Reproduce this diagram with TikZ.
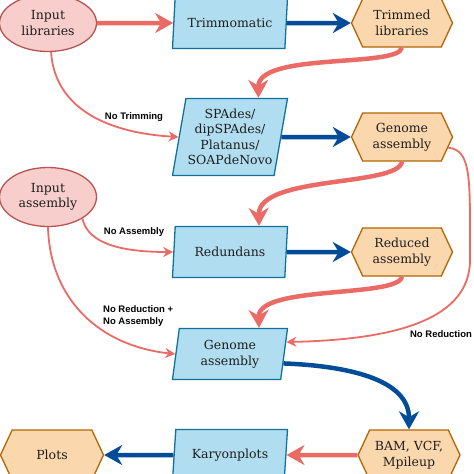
\documentclass[tikz,border=0pt]{standalone}
\usepackage{fontspec}
\setmainfont{DejaVu Serif}
\setsansfont{Liberation Sans}
\usetikzlibrary{arrows.meta,positioning,shapes.geometric,shapes.symbols}
\definecolor{flowred}{HTML}{EA6B66}
\definecolor{flowblue}{HTML}{004C99}
\definecolor{inpfill}{HTML}{F8CECC}
\definecolor{inpline}{HTML}{B85450}
\definecolor{toolfill}{HTML}{B1DDF0}
\definecolor{toolline}{HTML}{10739E}
\definecolor{datafill}{HTML}{FAD7AC}
\definecolor{dataline}{HTML}{B46504}
\definecolor{ink}{HTML}{1E1E1E}

\begin{document}
\begin{tikzpicture}[x=1pt,y=1pt]
  \tikzstyle{inp}=[ellipse,draw=inpline,line width=1.3pt,fill=inpfill,text=ink,minimum width=97pt,minimum height=57pt,inner sep=0pt,align=center,font=\fontsize{12.5}{15.5}\selectfont]
  \tikzstyle{tool}=[trapezium,trapezium left angle=77,trapezium right angle=103,trapezium stretches body,draw=toolline,line width=1.3pt,fill=toolfill,text=ink,minimum width=115pt,minimum height=51pt,inner sep=1pt,align=center,font=\fontsize{12.5}{15.5}\selectfont]
  \tikzstyle{data}=[signal,signal to=east and west,signal pointer angle=130,draw=dataline,line width=1.3pt,fill=datafill,text=ink,minimum width=101pt,minimum height=48pt,inner sep=1pt,align=center,font=\fontsize{12.5}{15.5}\selectfont]
  \tikzstyle{fat}=[line width=4.5pt,-{Stealth[length=18pt,width=20pt]}]
  \tikzstyle{skip}=[line width=1.8pt,flowred,-{Stealth[length=10pt,width=10pt]}]
  \tikzstyle{lbl}=[font=\sffamily\bfseries\fontsize{9.5}{11.5}\selectfont,text=black,inner sep=0pt]
  \useasboundingbox (0,0) rectangle (474,-474);
  \node[inp] (inlib) at (48,-23) {Input\\libraries};
  \node[tool] (trim) at (230,-23) {Trimmomatic};
  \node[data] (tlib) at (402,-23) {Trimmed\\libraries};
  \node[tool,minimum height=77pt] (spades) at (230,-137) {SPAdes/\\dipSPAdes/\\Platanus/\\SOAPdeNovo};
  \node[data] (gasm) at (402,-137) {Genome\\assembly};
  \node[inp,minimum height=59pt] (inasm) at (48,-197) {Input\\assembly};
  \node[tool] (redun) at (230,-252) {Redundans};
  \node[data] (redasm) at (402,-252) {Reduced\\assembly};
  \node[tool] (gen) at (230,-354) {Genome\\assembly};
  \node[data,minimum width=102pt,minimum height=50pt] (bam) at (409,-455) {BAM, VCF,\\Mpileup};
  \node[tool] (karyo) at (230,-455) {Karyonplots};
  \node[data,minimum width=103pt,minimum height=50pt] (plots) at (52,-455) {Plots};
  \node[lbl] (lnotrim) at (134,-117) {No Trimming};
  \node[lbl] (lnoasm) at (134,-232) {No Assembly};
  \node[lbl,anchor=west,align=left] (lnoredasm) at (103,-316) {No Reduction +\\No Assembly};
  \node[lbl] (lnored) at (441,-334) {No Reduction};
  \draw[fat,flowred] (inlib) -- (trim);
  \draw[fat,flowblue] (trim) -- (tlib);
  \draw[fat,flowred] (tlib.south) .. controls (398,-68) and (258,-52) .. (spades.54);
  \draw[fat,flowblue] (spades) -- (gasm);
  \draw[fat,flowred] (gasm.south) .. controls (398,-187) and (258,-175) .. (redun.42);
  \draw[fat,flowblue] (redun) -- (redasm);
  \draw[fat,flowred] (redasm.south) .. controls (398,-298) and (258,-285) .. (gen.42);
  \draw[fat,flowblue] (gen.-10) .. controls (350,-366) and (409,-380) .. (bam.north);
  \draw[fat,flowred] (bam) -- (karyo);
  \draw[fat,flowblue] (karyo) -- (plots);
  \draw[skip] (inlib.-84) .. controls (55,-110) and (110,-133) .. (spades.west);
  \draw[skip] (inasm.-32) .. controls (88,-245) and (125,-252) .. (redun.west);
  \draw[skip] (inasm.south) .. controls (50,-300) and (100,-346) .. (gen.west);
  \draw[skip] (gasm.-13) .. controls (472,-150) and (470,-180) .. (470,-260) .. controls (470,-325) and (380,-340) .. (gen.12);
\end{tikzpicture}
\end{document}
